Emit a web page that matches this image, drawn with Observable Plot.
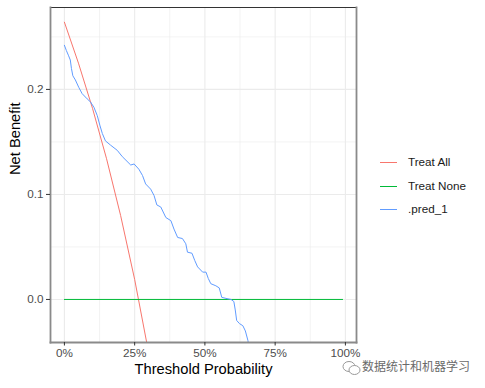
<!DOCTYPE html>
<html>
<head>
<meta charset="utf-8">
<script src="https://cdn.jsdelivr.net/npm/d3@7"></script>
<script src="https://cdn.jsdelivr.net/npm/@observablehq/plot@0.6"></script>
<style>
  html, body { margin: 0; padding: 0; background: #fff; }
  #wrap { position: relative; width: 485px; height: 388px; font-family: "Liberation Sans", Arial, sans-serif; }
  #legend { position: absolute; left: 378px; top: 153px; font-size: 11.7px; color: #1a1a1a; }
  .item { position: relative; height: 23.5px; }
  .key { position: absolute; left: 2px; top: 9px; width: 17px; height: 0; border-top: 1.1px solid; }
  .lab { position: absolute; left: 30px; top: 2px; white-space: nowrap; }
  #wm { position: absolute; left: 342px; top: 357px; font-size: 12px; color: #6a6a6a; white-space: nowrap; font-family: "Noto Sans CJK SC", sans-serif; }
  #wm svg { vertical-align: middle; }
</style>
</head>
<body>
<div id="wrap"></div>
<script>
// ---- data ----
const seriesNames = ["Treat All", "Treat None", ".pred_1"];
const seriesColors = ["#F8766D", "#00BA38", "#619CFF"];

const treatAllX = [0, 0.05, 0.10, 0.15, 0.20, 0.25, 0.30, 0.35];
const treatAllY = [0.264, 0.225, 0.182, 0.134, 0.080, 0.019, -0.051, -0.132];

const treatNoneX = [0, 0.99];
const treatNoneY = [0, 0];

const predX = [0, 0.007, 0.015, 0.021, 0.025, 0.030, 0.039, 0.051, 0.063, 0.081, 0.093, 0.105, 0.117, 0.126, 0.135, 0.146, 0.164, 0.188, 0.206, 0.236, 0.248, 0.265, 0.278, 0.289, 0.307, 0.319, 0.329, 0.343, 0.361, 0.379, 0.390, 0.403, 0.420, 0.432, 0.438, 0.454, 0.464, 0.474, 0.492, 0.504, 0.512, 0.521, 0.539, 0.551, 0.560, 0.575, 0.593, 0.603, 0.608, 0.613, 0.623, 0.635, 0.644, 0.653, 0.660];
const predY = [0.242, 0.237, 0.232, 0.228, 0.220, 0.213, 0.209, 0.202, 0.196, 0.191, 0.188, 0.183, 0.175, 0.166, 0.158, 0.151, 0.147, 0.142, 0.136, 0.128, 0.129, 0.124, 0.118, 0.110, 0.105, 0.099, 0.090, 0.088, 0.078, 0.075, 0.067, 0.059, 0.058, 0.053, 0.045, 0.044, 0.037, 0.031, 0.026, 0.026, 0.020, 0.015, 0.013, 0.011, 0.002, 0.001, 0.000, -0.002, -0.010, -0.020, -0.023, -0.025, -0.030, -0.039, -0.050];

const xTicks = [0, 0.25, 0.5, 0.75, 1];
const xMinor = [0.125, 0.375, 0.625, 0.875];
const yTicks = [0, 0.1, 0.2];
const yMinor = [0.05, 0.15, 0.25];

// ---- build ----
const toRows = (xs, ys) => xs.map((x, i) => ({x, y: ys[i]}));
const treatAll = toRows(treatAllX, treatAllY);
const treatNone = toRows(treatNoneX, treatNoneY);
const pred = toRows(predX, predY);

const tickCol = "#4D4D4D";
const chart = Plot.plot({
  width: 485, height: 388,
  marginLeft: 50, marginRight: 129, marginTop: 7, marginBottom: 46,
  style: {fontFamily: "Liberation Sans, Arial, sans-serif", background: "transparent"},
  x: {domain: [-0.0495, 1.0395]},
  y: {domain: [-0.041, 0.278]},
  marks: [
    Plot.gridX(xMinor, {stroke: "#EBEBEB", strokeOpacity: 1, strokeWidth: 0.6}),
    Plot.gridY(yMinor, {stroke: "#EBEBEB", strokeOpacity: 1, strokeWidth: 0.6}),
    Plot.gridX(xTicks, {stroke: "#EBEBEB", strokeOpacity: 1, strokeWidth: 1.1}),
    Plot.gridY(yTicks, {stroke: "#EBEBEB", strokeOpacity: 1, strokeWidth: 1.1}),
    Plot.line(treatAll, {x: "x", y: "y", stroke: seriesColors[0], strokeWidth: 1, clip: true}),
    Plot.line(treatNone, {x: "x", y: "y", stroke: seriesColors[1], strokeWidth: 1, clip: true}),
    Plot.line(pred, {x: "x", y: "y", stroke: seriesColors[2], strokeWidth: 1, clip: true}),
    Plot.frame({anchor: "top", stroke: "#333333", strokeWidth: 1.1}),
    Plot.frame({anchor: "left", stroke: "#8a8a8a", strokeWidth: 1.8}),
    Plot.frame({anchor: "bottom", stroke: "#8a8a8a", strokeWidth: 1.8}),
    Plot.frame({anchor: "right", stroke: "#8a8a8a", strokeWidth: 1.8}),
    Plot.axisX(xTicks, {tickFormat: d3.format(".0%"), tickSize: 3.5, tickPadding: 2.5, fontSize: 11.7, color: tickCol, stroke: "#333", label: null}),
    Plot.axisY(yTicks, {tickFormat: d3.format(".1f"), tickSize: 4, tickPadding: 3, fontSize: 11.7, color: tickCol, stroke: "#333", label: null}),
    Plot.text(["Threshold Probability"], {frameAnchor: "bottom", dy: 31, fontSize: 14.7, fill: "#000"}),
    Plot.text(["Net Benefit"], {frameAnchor: "left", dx: -35, rotate: -90, fontSize: 14.7, fill: "#000"})
  ]
});

const wrap = document.getElementById("wrap");
wrap.appendChild(chart);

const legend = document.createElement("div");
legend.id = "legend";
seriesNames.forEach((name, i) => {
  const item = document.createElement("div");
  item.className = "item";
  item.innerHTML = `<div class="key" style="border-color:${seriesColors[i]}"></div><div class="lab">${name}</div>`;
  legend.appendChild(item);
});
wrap.appendChild(legend);

const wm = document.createElement("div");
wm.id = "wm";
wm.innerHTML = `<svg width="20" height="16" viewBox="0 0 20 16"><ellipse cx="7" cy="6.5" rx="6" ry="5" fill="none" stroke="#999" stroke-width="1"/><ellipse cx="12.5" cy="10" rx="5.5" ry="4.5" fill="#fff" stroke="#999" stroke-width="1"/></svg><span>数据统计和机器学习</span>`;
wrap.appendChild(wm);
</script>
</body>
</html>
